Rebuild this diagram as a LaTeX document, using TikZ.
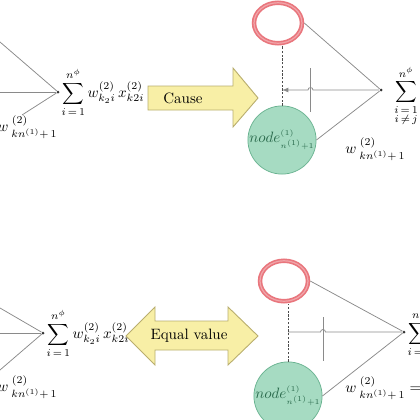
\documentclass[tikz,border=0pt]{standalone}
\usepackage{amsmath}
\usepackage{amssymb}
\usetikzlibrary{positioning,shapes.geometric}
\definecolor{arrowfill}{HTML}{F8EFA6}
\definecolor{arrowline}{HTML}{B9AE6E}
\definecolor{ringred}{HTML}{E9767D}
\definecolor{nodegreen}{HTML}{A6DBC2}
\definecolor{nodeline}{HTML}{6AB391}
\definecolor{nodetext}{HTML}{2A6A4C}
\definecolor{wiregray}{HTML}{8A8A8A}

\begin{document}
\begin{tikzpicture}[x=0.6667pt,y=-0.6667pt,>=latex,
    wire/.style={draw=wiregray,line width=0.5pt},
    dashwire/.style={draw=black!70,line width=0.4pt,dash pattern=on 1.5pt off 1pt},
    dotnode/.style={circle,fill=black!80,inner sep=0pt,minimum size=2pt},
    ringnode/.style={ellipse,draw=ringred,line width=3pt,minimum width=32pt,minimum height=27pt,inner sep=0pt},
    ringshine/.style={ellipse,draw=white,draw opacity=0.35,line width=0.8pt,minimum width=32pt,minimum height=27pt,inner sep=0pt},
    cellnode/.style={circle,draw=nodeline,fill=nodegreen,line width=0.5pt,minimum size=31pt,inner sep=0pt,text=nodetext},
    sumnode/.style={inner sep=0pt},
    bigarrow/.style={draw=arrowline,fill=arrowfill,line width=0.6pt}]
    \useasboundingbox (0,0) rectangle (420,420);
    \clip (0,0) rectangle (420,420);

    % top row
    \node (dotL1) [dotnode] at (58,92) {};
    \node (sumL1) [sumnode,right=1pt of dotL1] {$\displaystyle\sum_{i\,=\,1}^{n^{\phi}} w^{(2)}_{k_2 i}\,x^{(2)}_{k2i}$};
    \node (wL1) [anchor=west] at (-8,127) {$w^{\;(2)}_{\;kn^{(1)}+\,1}$};
    \coordinate (srcT1) at (0,42);
    \coordinate (srcT2) at (0,92);
    \coordinate (srcT3) at (22,115);

    \draw[bigarrow] (148,86) -- (233,86) -- (233,68) -- (258,98) -- (233,127) -- (233,110) -- (148,110) -- cycle;
    \node (cause) at (183,98) {Cause};

    \node (ringT) [ringnode] at (278,23) {};
    \node (shineT) [ringshine] at (ringT) {};
    \node (cellT) [cellnode] at (282,140) {$node^{\scriptscriptstyle(1)}_{\scriptscriptstyle n^{(1)}+1}$};
    \node (dotR1) [dotnode] at (381,90) {};
    \node (sumR1) [sumnode,anchor=west] at (394,96) {$\displaystyle\sum_{\substack{i\,=\,1\\ i\,\neq\,j}}^{n^{\phi}} w^{(2)}_{k_2 i}\,x^{(2)}_{k2i}$};
    \node (wR1) [anchor=west] at (340,149) {$w^{\;(2)}_{\;kn^{(1)}+\,1}$};
    \coordinate (dashT) at (cellT.north |- dotR1);
    \coordinate (tickT1) at (310.5,68);
    \coordinate (tickT2) at (310.5,112);

    \draw[wire] (srcT1) -- (dotL1);
    \draw[wire] (srcT2) -- (dotL1);
    \draw[wire] (srcT3) -- (dotL1);
    \draw[wire] (ringT.east) -- (dotR1);
    \draw[wire] (cellT.east) -- (dotR1);
    \draw[wire,->] (dotR1) -- (313,90) arc[start angle=0,end angle=-180,radius=2.5] -- (dashT);
    \draw[wire] (tickT1) -- (tickT2);
    \draw[dashwire] (cellT.north) -- (cellT.north |- ringT.south);

    % bottom row
    \node (dotL2) [dotnode] at (43,333) {};
    \node (sumL2) [sumnode,right=1pt of dotL2] {$\displaystyle\sum_{i\,=\,1}^{n^{\phi}} w^{(2)}_{k_2 i}\,x^{(2)}_{k2i}$};
    \node (wL2) [anchor=west] at (-8,387) {$w^{\;(2)}_{\;kn^{(1)}+\,1}$};
    \coordinate (srcB1) at (0,308);
    \coordinate (srcB2) at (0,333);
    \coordinate (srcB3) at (0,370);

    \draw[bigarrow] (126,336) -- (155,307) -- (155,321) -- (228,321) -- (228,307) -- (258,336) -- (228,365) -- (228,350) -- (155,350) -- (155,365) -- cycle;
    \node (equal) at (189,336) {Equal value};

    \node (ringB) [ringnode] at (284,281) {};
    \node (shineB) [ringshine] at (ringB) {};
    \node (cellB) [cellnode] at (288,396) {$node^{\scriptscriptstyle(1)}_{\scriptscriptstyle n^{(1)}+1}$};
    \node (dotR2) [dotnode] at (404,332) {};
    \node (sumR2) [sumnode,right=1pt of dotR2] {$\displaystyle\sum_{i\,=\,1}^{n^{\phi}} w^{(2)}_{k_2 i}\,x^{(2)}_{k2i}$};
    \node (wR2) [anchor=west] at (340,388) {$w^{\;(2)}_{\;kn^{(1)}+\,1}=0$};
    \coordinate (dashB) at (cellB.north |- dotR2);
    \coordinate (tickB1) at (323,317);
    \coordinate (tickB2) at (323,361);

    \draw[wire] (srcB1) -- (dotL2);
    \draw[wire] (srcB2) -- (dotL2);
    \draw[wire] (srcB3) -- (dotL2);
    \draw[wire] (ringB.east) -- (dotR2);
    \draw[wire] (cellB.east) -- (dotR2);
    \draw[wire] (dotR2) -- (325.5,332) arc[start angle=0,end angle=-180,radius=2.5] -- (dashB);
    \draw[wire] (tickB1) -- (tickB2);
    \draw[dashwire] (cellB.north) -- (cellB.north |- ringB.south);
\end{tikzpicture}
\end{document}
